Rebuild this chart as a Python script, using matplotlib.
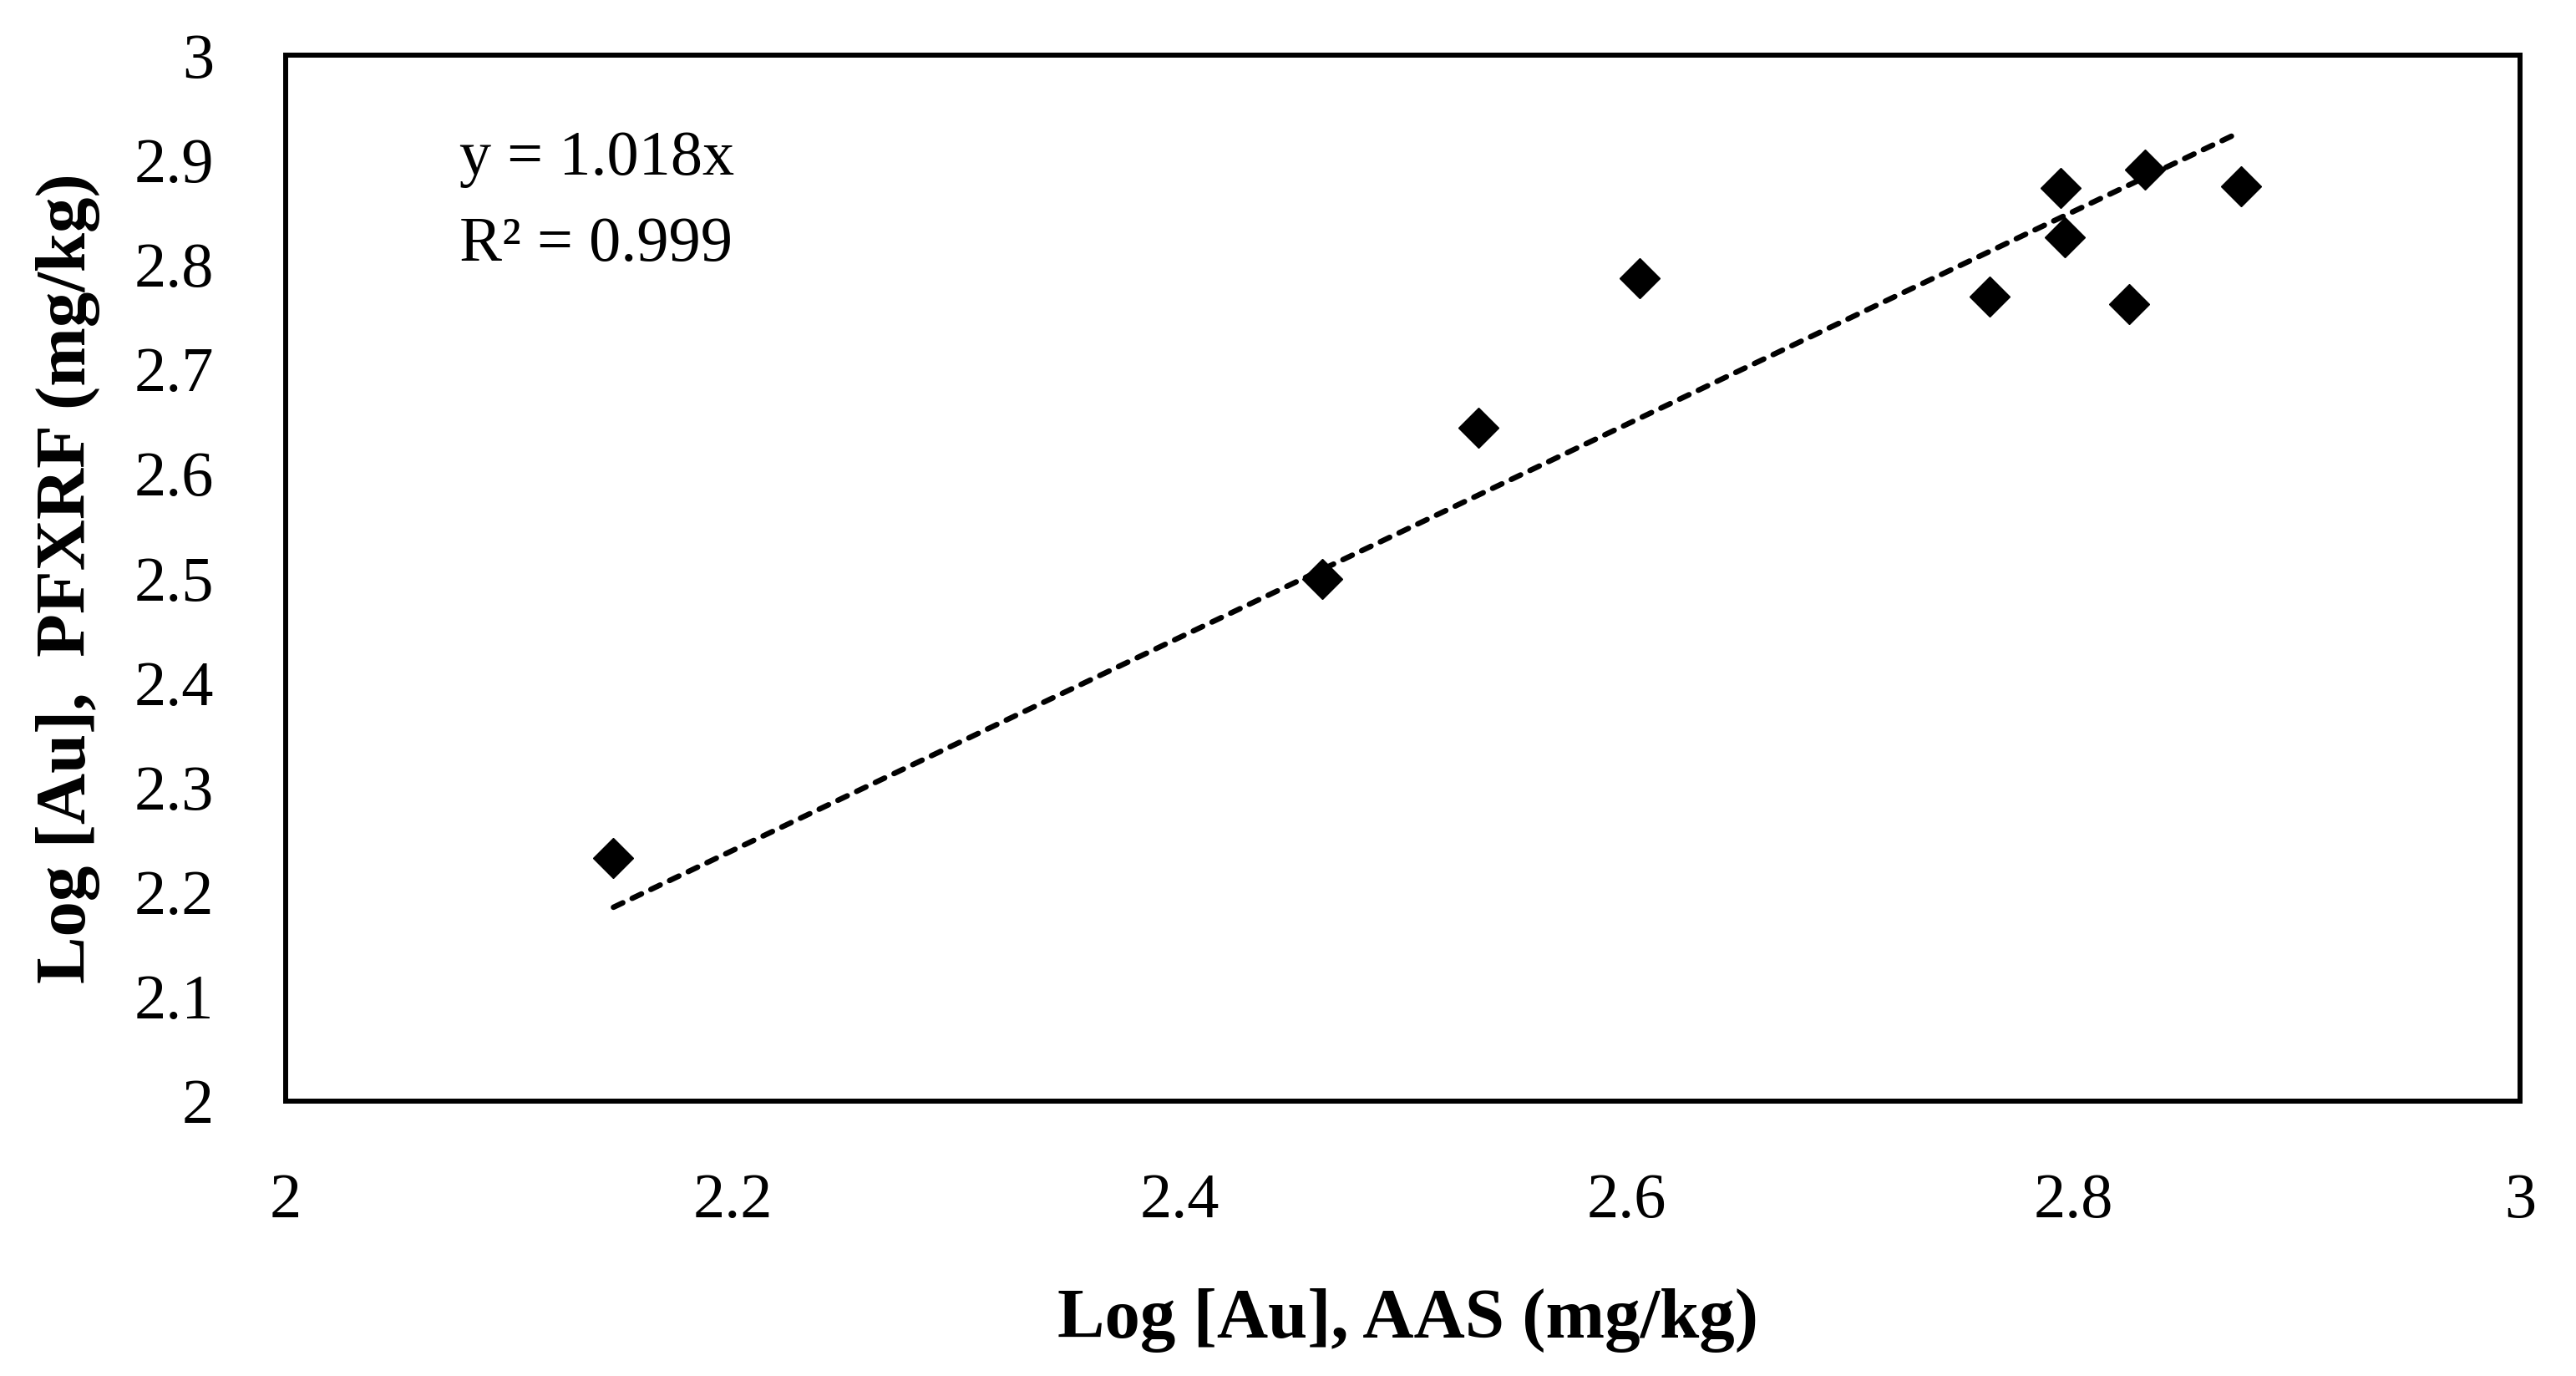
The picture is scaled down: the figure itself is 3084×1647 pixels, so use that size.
import matplotlib
matplotlib.use("Agg")
import matplotlib.pyplot as plt
import numpy as np

# Data
x_aas = [2.1467, 2.4638, 2.5338, 2.6061, 2.7625, 2.7943, 2.7962, 2.8249, 2.8323, 2.8750]
y_pfxrf = [2.2322, 2.4990, 2.6435, 2.7865, 2.7689, 2.8728, 2.8261, 2.7617, 2.8903, 2.8744]
slope = 1.018
r_squared = 0.999
x_ticks = [2.0, 2.2, 2.4, 2.6, 2.8, 3.0]
x_tick_labels = ["2", "2.2", "2.4", "2.6", "2.8", "3"]
y_ticks = [2.0, 2.1, 2.2, 2.3, 2.4, 2.5, 2.6, 2.7, 2.8, 2.9, 3.0]
y_tick_labels = ["2", "2.1", "2.2", "2.3", "2.4", "2.5", "2.6", "2.7", "2.8", "2.9", "3"]
x_label = "Log [Au], AAS (mg/kg)"
y_label = "Log [Au],  PFXRF (mg/kg)"

plt.rcParams["font.family"] = ["Liberation Serif", "DejaVu Serif"]

W, H = 3084, 1647
fig = plt.figure(figsize=(W / 100, H / 100), dpi=100)
L, R, T, B = 342, 3017, 66, 1318
ax = fig.add_axes([L / W, 1 - B / H, (R - L) / W, (B - T) / H])

# trendline
xs = np.array([min(x_aas), max(x_aas)])
ax.plot(xs, slope * xs, color="black", lw=4.7, linestyle=(0, (1.9, 1.9)),
        dash_capstyle="round", zorder=2)

# points
ax.plot(x_aas, y_pfxrf, linestyle="none", marker="D", markersize=24.5,
        color="black", zorder=3)

ax.set_xlim(2, 3)
ax.set_ylim(2, 3)
ax.set_xticks(x_ticks)
ax.set_xticklabels(x_tick_labels)
ax.set_yticks(y_ticks)
ax.set_yticklabels(y_tick_labels)
ax.tick_params(axis="both", length=0, labelsize=55)
ax.tick_params(axis="x", pad=62)
ax.tick_params(axis="y", pad=62)

for s in ax.spines.values():
    s.set_linewidth(4.3)
    s.set_color("black")

ax.text(0.0778, 0.8858, f"y = {slope:.3f}x", transform=ax.transAxes,
        fontsize=55, va="baseline", ha="left")
ax.text(0.0778, 0.8035, f"R\u00b2 = {r_squared:.3f}", transform=ax.transAxes,
        fontsize=55, va="baseline", ha="left")

ax.set_xlabel(x_label, fontsize=61, fontweight="bold")
ax.set_ylabel(y_label, fontsize=61, fontweight="bold")
ax.xaxis.set_label_coords(0.5024, -0.226)
ax.xaxis.label.set_va("baseline")
ax.xaxis.label.set_ha("center")
ax.yaxis.set_label_coords(-0.0897, 0.5)
ax.yaxis.label.set_rotation_mode("anchor")
ax.yaxis.label.set_va("baseline")
ax.yaxis.label.set_ha("center")

fig.savefig("out.png", dpi=100, facecolor="white")
